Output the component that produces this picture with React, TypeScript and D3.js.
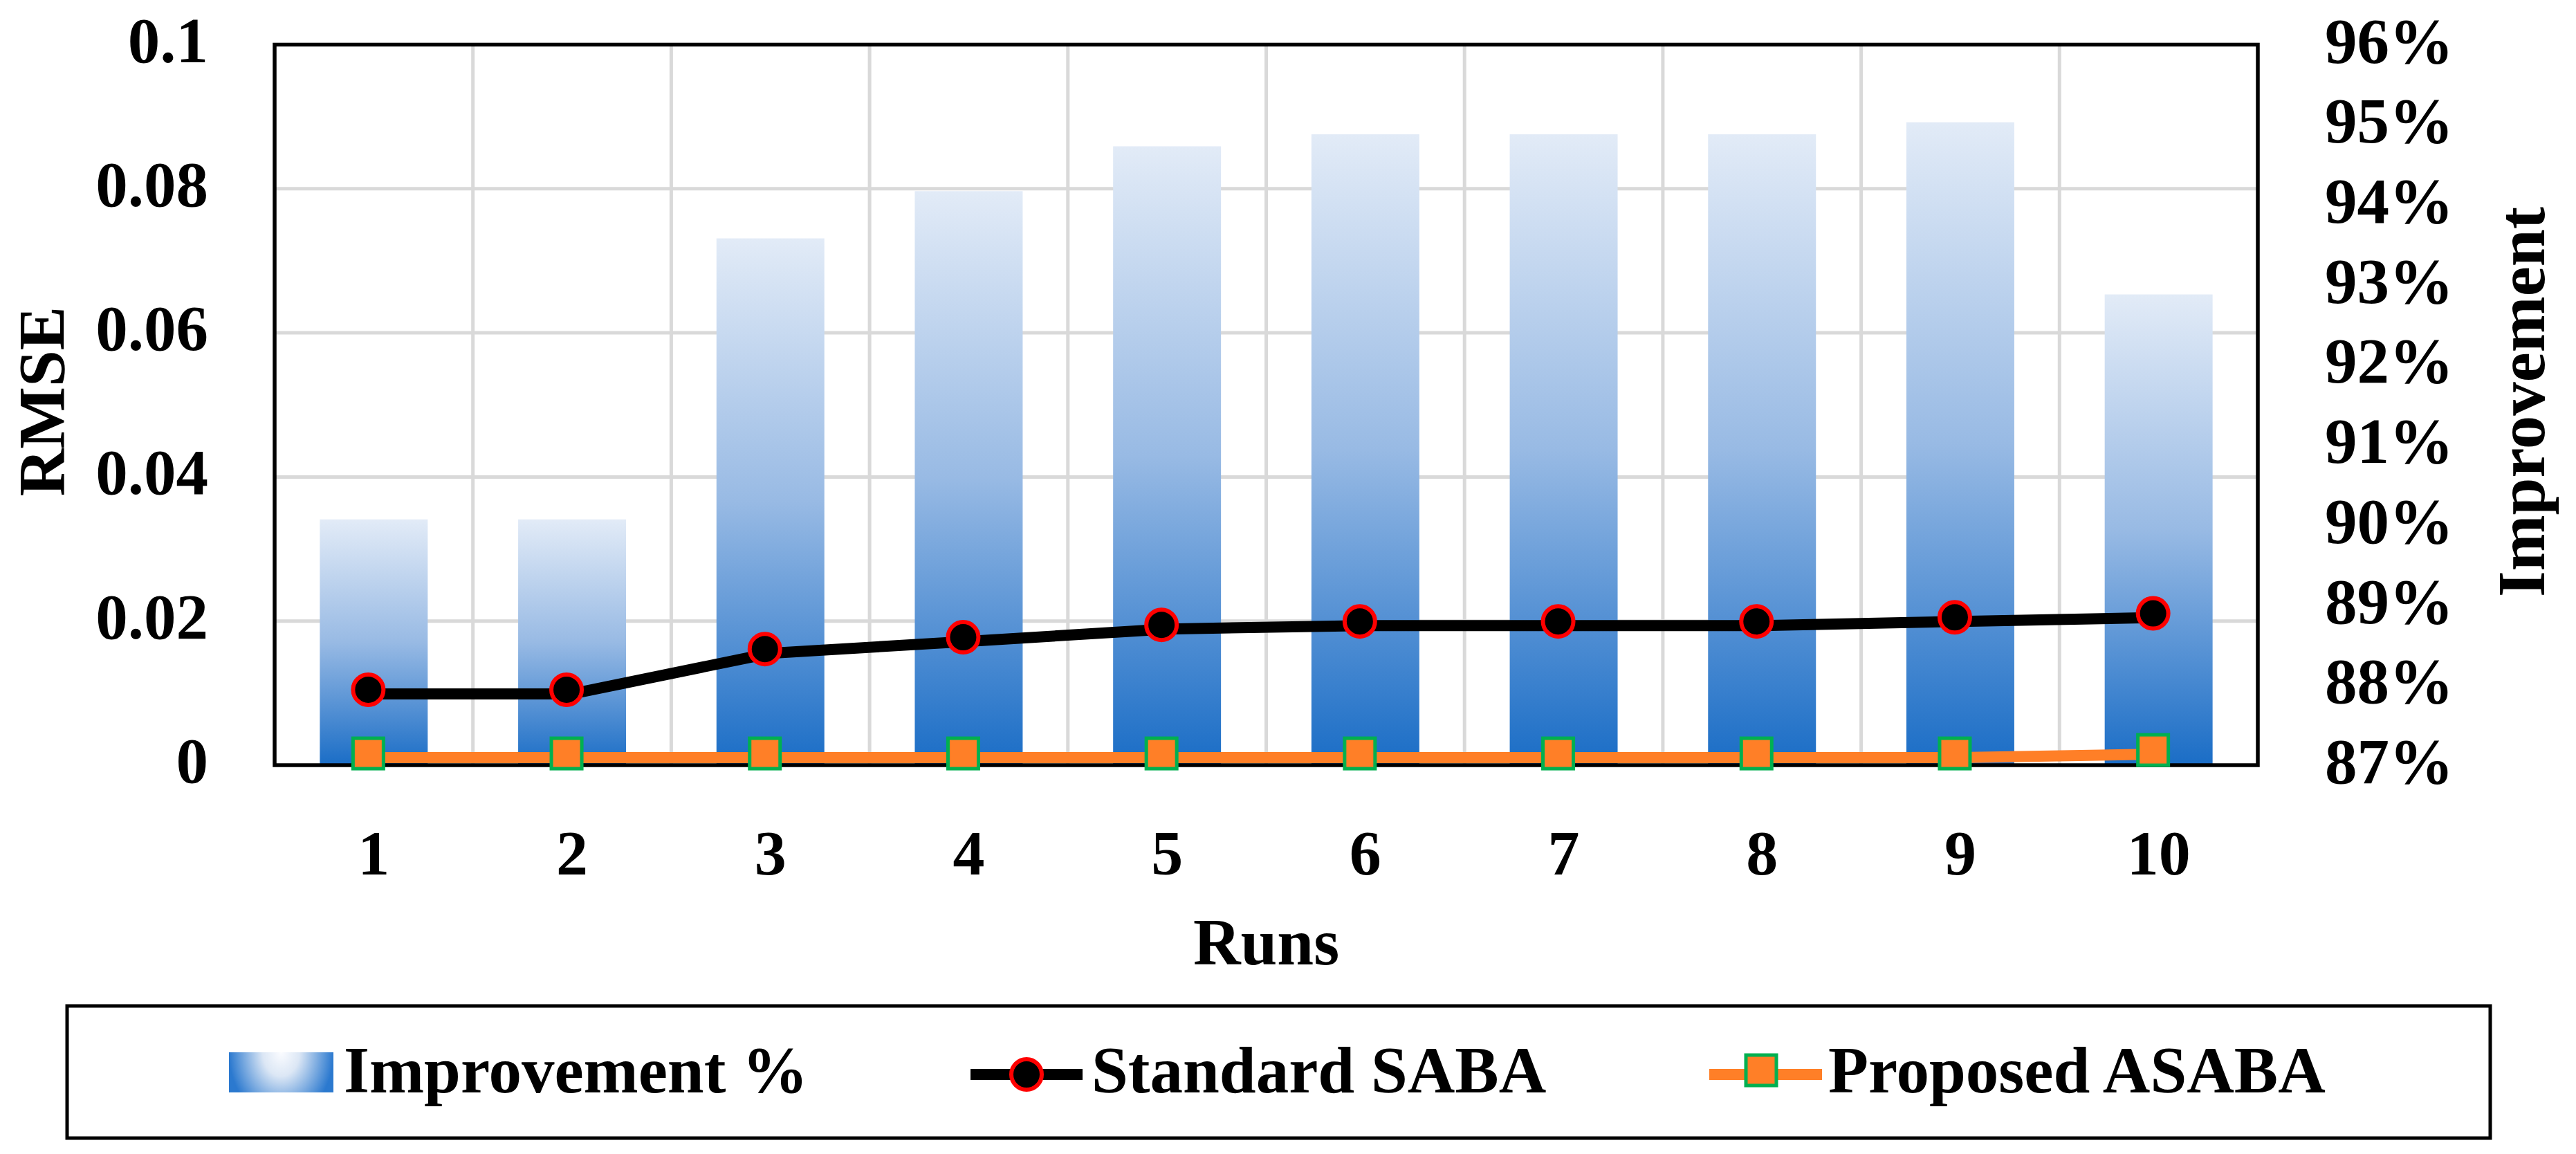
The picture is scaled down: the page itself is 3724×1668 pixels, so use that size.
import React, { useEffect } from "react";
import * as d3 from "d3";

const runs = ["1", "2", "3", "4", "5", "6", "7", "8", "9", "10"];
const improvement = [0.9007, 0.9007, 0.9358, 0.9417, 0.9473, 0.9488, 0.9488, 0.9488, 0.9503, 0.9288];
const standardSABA = [0.0099, 0.0099, 0.01554, 0.01718, 0.0189, 0.01938, 0.01938, 0.01938, 0.01995, 0.02049];
const proposedASABA = [0.00105, 0.00105, 0.00105, 0.00105, 0.00105, 0.00105, 0.00105, 0.00105, 0.00105, 0.00153];
const leftTicks = [0, 0.02, 0.04, 0.06, 0.08, 0.1];
const leftTickLabels = ["0", "0.02", "0.04", "0.06", "0.08", "0.1"];
const rightTicks = [0.87, 0.88, 0.89, 0.9, 0.91, 0.92, 0.93, 0.94, 0.95, 0.96];
const legendLabels = ["Improvement %", "Standard SABA", "Proposed ASABA"];
const xTitle = "Runs";
const yTitle = "RMSE";
const y2Title = "Improvement";

const W = 3724;
const H = 1668;
const plot = { left: 397, right: 3264, top: 64.5, bottom: 1106 };
const FONT = "'Liberation Serif', 'Times New Roman', serif";
const markerDX = -8;
const markerDY = -6;

export default function App() {
  useEffect(() => {
    document.body.style.margin = "0";
  }, []);

  const x = d3
    .scaleBand<string>()
    .domain(runs)
    .range([plot.left, plot.right])
    .paddingInner(0.456)
    .paddingOuter(0.228);
  const step = x.step();
  const yL = d3.scaleLinear().domain([0, 0.1]).range([plot.bottom, plot.top]);
  const yR = d3.scaleLinear().domain([0.87, 0.96]).range([plot.bottom, plot.top]);
  const cx = (r: string) => (x(r) as number) + x.bandwidth() / 2;

  const sabaLine = d3
    .line<number>()
    .x((_, i) => cx(runs[i]))
    .y((d) => yL(d))(standardSABA) as string;
  const asabaLine = d3
    .line<number>()
    .x((_, i) => cx(runs[i]))
    .y((d) => yL(d))(proposedASABA) as string;

  const fmtPct = d3.format(".0%");

  return (
    <svg width={W} height={H} viewBox={`0 0 ${W} ${H}`} style={{ display: "block", background: "#fff" }}>
      <defs>
        <linearGradient id="barGrad" x1="0" y1="0" x2="0" y2="1">
          <stop offset="0" stopColor="#E2EBF7" />
          <stop offset="0.5" stopColor="#98BAE4" />
          <stop offset="1" stopColor="#1A6DC6" />
        </linearGradient>
        <radialGradient
          id="legGrad"
          cx="0.5"
          cy="0"
          r="0.5"
          gradientTransform="translate(0.5,0) scale(1,3.4) translate(-0.5,0)"
        >
          <stop offset="0" stopColor="#FBFCFF" />
          <stop offset="0.35" stopColor="#DCE7F5" />
          <stop offset="1" stopColor="#2B79CF" />
        </radialGradient>
      </defs>
      <rect x={0} y={0} width={W} height={H} fill="#fff" />

      {/* gridlines */}
      {leftTicks.slice(1, -1).map((t) => (
        <line key={"h" + t} x1={plot.left} x2={plot.right} y1={yL(t)} y2={yL(t)} stroke="#D9D9D9" strokeWidth={5} />
      ))}
      {runs.slice(1).map((r) => (
        <line
          key={"v" + r}
          x1={(x(r) as number) - (step - x.bandwidth()) / 2}
          x2={(x(r) as number) - (step - x.bandwidth()) / 2}
          y1={plot.top}
          y2={plot.bottom}
          stroke="#D9D9D9"
          strokeWidth={5}
        />
      ))}

      {/* bars */}
      {runs.map((r, i) => (
        <rect
          key={"b" + r}
          x={x(r)}
          y={yR(improvement[i])}
          width={x.bandwidth()}
          height={plot.bottom - yR(improvement[i])}
          fill="url(#barGrad)"
        />
      ))}

      {/* plot border */}
      <rect
        x={plot.left}
        y={plot.top}
        width={plot.right - plot.left}
        height={plot.bottom - plot.top}
        fill="none"
        stroke="#000"
        strokeWidth={5.5}
      />

      {/* lines */}
      <path d={asabaLine} fill="none" stroke="#FF7F27" strokeWidth={16} strokeLinejoin="round" />
      <path d={sabaLine} fill="none" stroke="#000" strokeWidth={16} strokeLinejoin="round" />

      {/* markers */}
      <g transform={`translate(${markerDX},${markerDY})`}>
        {runs.map((r, i) => (
          <circle key={"c" + r} cx={cx(r)} cy={yL(standardSABA[i])} r={22} fill="#000" stroke="#FF0000" strokeWidth={6} />
        ))}
        {runs.map((r, i) => (
          <rect
            key={"s" + r}
            x={cx(r) - 22}
            y={yL(proposedASABA[i]) - 22}
            width={44}
            height={44}
            fill="#FF7F27"
            stroke="#00B050"
            strokeWidth={5}
          />
        ))}
      </g>

      {/* left axis labels */}
      {leftTicks.map((t, i) => (
        <text
          key={"lt" + t}
          x={301}
          y={yL(t) + 25}
          textAnchor="end"
          fontFamily={FONT}
          fontWeight="bold"
          fontSize={93}
          fill="#000"
        >
          {leftTickLabels[i]}
        </text>
      ))}

      {/* right axis labels */}
      {rightTicks.map((t) => (
        <text
          key={"rt" + t}
          x={3361}
          y={yR(t) + 26}
          textAnchor="start"
          fontFamily={FONT}
          fontWeight="bold"
          fontSize={93}
          fill="#000"
        >
          {fmtPct(t)}
        </text>
      ))}

      {/* x axis labels */}
      {runs.map((r) => (
        <text
          key={"xt" + r}
          x={cx(r)}
          y={1264}
          textAnchor="middle"
          fontFamily={FONT}
          fontWeight="bold"
          fontSize={92}
          fill="#000"
        >
          {r}
        </text>
      ))}

      {/* axis titles */}
      <text
        x={(plot.left + plot.right) / 2}
        y={1394}
        textAnchor="middle"
        fontFamily={FONT}
        fontWeight="bold"
        fontSize={95}
        fill="#000"
      >
        {xTitle}
      </text>
      <text
        transform={`translate(93,${580}) rotate(-90)`}
        textAnchor="middle"
        fontFamily={FONT}
        fontWeight="bold"
        fontSize={95}
        fill="#000"
      >
        {yTitle}
      </text>
      <text
        transform={`translate(3678,${581}) rotate(-90)`}
        textAnchor="middle"
        fontFamily={FONT}
        fontWeight="bold"
        fontSize={97}
        fill="#000"
      >
        {y2Title}
      </text>

      {/* legend */}
      <rect x={97} y={1454} width={3503} height={191} fill="none" stroke="#000" strokeWidth={5} />
      <rect x={331} y={1521} width={151} height={58} fill="url(#legGrad)" />
      <text x={497} y={1579} fontFamily={FONT} fontWeight="bold" fontSize={95} fill="#000">
        {legendLabels[0]}
      </text>
      <line x1={1403} x2={1565} y1={1553} y2={1553} stroke="#000" strokeWidth={16} />
      <circle cx={1484} cy={1553} r={22} fill="#000" stroke="#FF0000" strokeWidth={6} />
      <text x={1578} y={1579} fontFamily={FONT} fontWeight="bold" fontSize={95} fill="#000">
        {legendLabels[1]}
      </text>
      <line x1={2471} x2={2634} y1={1553} y2={1553} stroke="#FF7F27" strokeWidth={16} />
      <rect x={2524} y={1525} width={44} height={44} fill="#FF7F27" stroke="#00B050" strokeWidth={5} />
      <text x={2643} y={1579} fontFamily={FONT} fontWeight="bold" fontSize={95} fill="#000">
        {legendLabels[2]}
      </text>
    </svg>
  );
}
